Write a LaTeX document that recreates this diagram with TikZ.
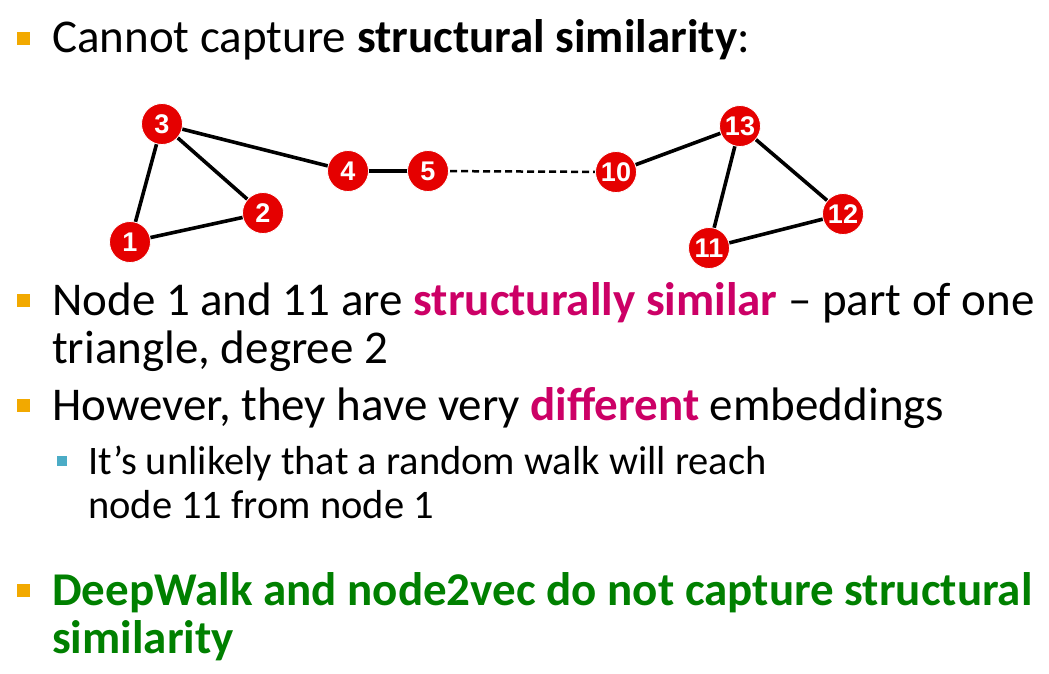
\documentclass[tikz,border=0pt]{standalone}
\usepackage{fontspec}
\setmainfont{Carlito}
\newfontfamily\arialf{Liberation Sans}
\begin{document}
\begin{tikzpicture}[x=1pt,y=-1pt,
  vtx/.style={circle,fill=red!90!black,draw=white,line width=0.8pt,minimum size=41pt,inner sep=0pt,text=white,font=\fontsize{27}{27}\selectfont\arialf\bfseries},
  edge/.style={line width=3.6pt},
  txt/.style={anchor=base west,inner sep=0pt,font=\fontsize{47}{47}\selectfont},
  stxt/.style={anchor=base west,inner sep=0pt,font=\fontsize{40.5}{40.5}\selectfont},
  bul/.style={fill=bulc,minimum size=13pt,inner sep=0pt},
  sbul/.style={fill=sbulc,minimum size=10pt,inner sep=0pt}]
\definecolor{bulc}{RGB}{242,169,0}
\definecolor{sbulc}{RGB}{75,172,198}
\definecolor{mag}{RGB}{204,0,102}
\definecolor{grn}{RGB}{0,128,0}
\useasboundingbox (0,0) rectangle (1049,673);
\coordinate (c1) at (130,242); \coordinate (c2) at (263,213); \coordinate (c3) at (162,124);
\coordinate (c4) at (348,171); \coordinate (c5) at (428,171); \coordinate (c10) at (616,172);
\coordinate (c13) at (740,126); \coordinate (c12) at (843,214); \coordinate (c11) at (709,248);
\draw[edge] (c1)--(c3); \draw[edge] (c1)--(c2); \draw[edge] (c3)--(c2);
\draw[edge] (c3)--(c4); \draw[edge] (c4)--(c5);
\draw[line width=2.5pt,dash pattern=on 7pt off 4pt] (c5)--(c10);
\draw[edge] (c10)--(c13); \draw[edge] (c13)--(c12); \draw[edge] (c13)--(c11); \draw[edge] (c11)--(c12);
\node[vtx] (n1) at (c1) {1};
\node[vtx] (n2) at (c2) {2};
\node[vtx] (n3) at (c3) {3};
\node[vtx] (n4) at (c4) {4};
\node[vtx] (n5) at (c5) {5};
\node[vtx] (n10) at (c10) {10};
\node[vtx] (n13) at (c13) {13};
\node[vtx] (n12) at (c12) {12};
\node[vtx] (n11) at (c11) {11};
\node[bul] (b1) at (23,38) {};
\node[txt] (t1) at (52,52) {Cannot capture \textbf{structural similarity}:};
\node[bul] (b2) at (23,300) {};
\node[txt] (t2) at (52,315) {Node 1 and 11 are \textcolor{mag}{\textbf{structurally similar}} – part of one};
\node[txt] (t2b) at (52,363) {triangle, degree 2};
\node[bul] (b3) at (23,405) {};
\node[txt] (t3) at (52,420) {However, they have very \textcolor{mag}{\textbf{different}} embeddings};
\node[sbul] (b4) at (62,461) {};
\node[stxt] (t4) at (88,474) {It’s unlikely that a random walk will reach};
\node[stxt] (t4b) at (88,518) {node 11 from node 1};
\node[bul] (b5) at (23,590) {};
\node[txt,text=grn,font=\fontsize{47}{47}\selectfont\bfseries] (t5) at (52,605) {DeepWalk and node2vec do not capture structural};
\node[txt,text=grn,font=\fontsize{47}{47}\selectfont\bfseries] (t5b) at (52,653) {similarity};
\end{tikzpicture}
\end{document}
